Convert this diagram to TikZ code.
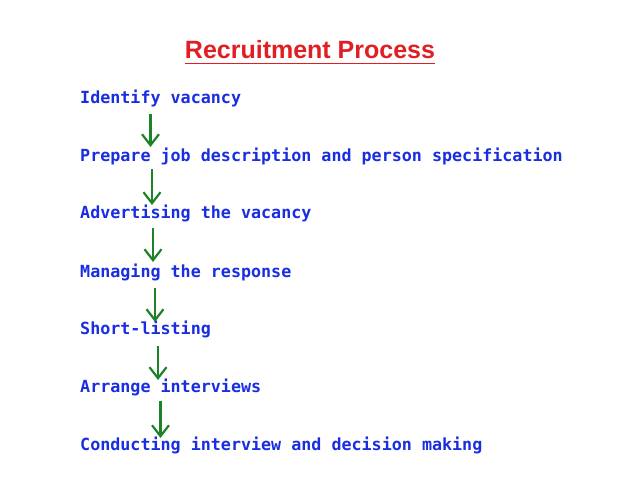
\documentclass[tikz,border=0pt]{standalone}
\usepackage{fontspec}
\setmainfont{Liberation Sans}
\newfontfamily\stepfont{DejaVu Sans Mono}
\usetikzlibrary{arrows.meta}
\definecolor{titlered}{RGB}{225,30,35}
\definecolor{stepblue}{RGB}{25,45,225}
\definecolor{arrowgreen}{RGB}{30,130,40}
\tikzset{
  steptext/.style={anchor=base west, inner sep=0pt, text=stepblue, font=\stepfont\bfseries\fontsize{16.7}{18}\selectfont},
  flowarrow/.style={draw=arrowgreen, line width=2.2pt, -{Straight Barb[length=11pt,width=17pt,line width=2.2pt]}}
}
\begin{document}
\begin{tikzpicture}[x=1pt,y=-1pt]
\useasboundingbox[fill=white] (0,0) rectangle (638,478);
\node[anchor=base, inner sep=0pt, text=titlered, font=\bfseries\fontsize{25}{28}\selectfont] (title) at (310,59) {Recruitment Process};
\draw[titlered, line width=1.8pt] ([yshift=-4.5pt]title.base west) -- ([yshift=-4.5pt]title.base east);
\node[steptext] (s1) at (80,104) {Identify vacancy};
\node[steptext] (s2) at (80,162) {Prepare job description and person specification};
\node[steptext] (s3) at (80,219) {Advertising the vacancy};
\node[steptext] (s4) at (80,278) {Managing the response};
\node[steptext] (s5) at (80,335) {Short-listing};
\node[steptext] (s6) at (80,393) {Arrange interviews};
\node[steptext] (s7) at (80,451) {Conducting interview and decision making};
\coordinate (a1s) at (150.5,114); \coordinate (a1e) at (150.5,147);
\coordinate (a2s) at (152,169); \coordinate (a2e) at (152,205);
\coordinate (a3s) at (153,228); \coordinate (a3e) at (153,262);
\coordinate (a4s) at (155,288); \coordinate (a4e) at (155,322);
\coordinate (a5s) at (158,346); \coordinate (a5e) at (158,380);
\coordinate (a6s) at (160.5,401); \coordinate (a6e) at (160.5,438);
\draw[flowarrow] (a1s) -- (a1e);
\draw[flowarrow] (a2s) -- (a2e);
\draw[flowarrow] (a3s) -- (a3e);
\draw[flowarrow] (a4s) -- (a4e);
\draw[flowarrow] (a5s) -- (a5e);
\draw[flowarrow] (a6s) -- (a6e);
\end{tikzpicture}
\end{document}
